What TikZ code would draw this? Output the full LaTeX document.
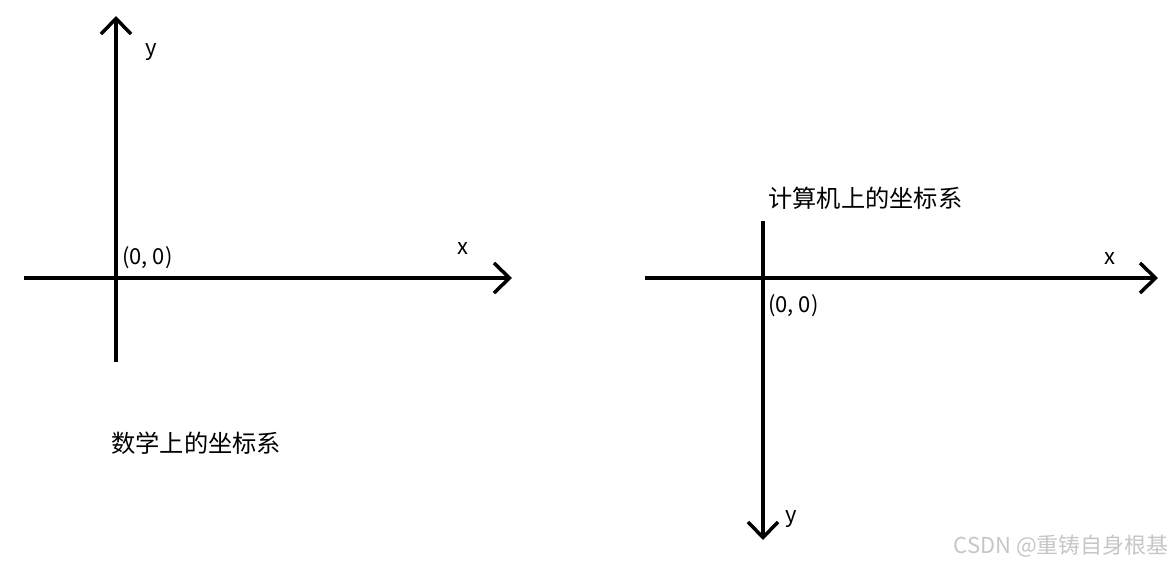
\documentclass[tikz,border=0pt]{standalone}
\usepackage{fontspec}
\setmainfont{Noto Sans CJK SC}
\usetikzlibrary{arrows.meta, positioning}

\begin{document}
\begin{tikzpicture}[x=0.02cm, y=-0.02cm,
    axis/.style={line width=2pt, -{Straight Barb[length=0.31cm, width=0.6cm, line width=2pt]}},
    lbl/.style={inner sep=0pt, font=\fontsize{12.5pt}{15pt}\selectfont},
    title/.style={inner sep=0pt, anchor=west, font=\fontsize{13.8pt}{16pt}\selectfont},
    wmark/.style={inner sep=0pt, text=gray!45, font=\fontsize{12.5pt}{15pt}\selectfont}]

  \useasboundingbox (0,0) rectangle (1174,565);

  % left: axes as in maths
  \coordinate (ml) at (24,278);
  \coordinate (mr) at (512,278);
  \coordinate (mb) at (116,362);
  \coordinate (mt) at (116,16);
  \draw[axis] (ml) -- (mr);
  \draw[axis] (mb) -- (mt);
  \node[lbl] (my) at (151,52) {y};
  \node[lbl] (mx) at (463,249) {x};
  \node[lbl, anchor=west] (mo) at (122,258) {(0, 0)};
  \node[title] (mtitle) at (111,443) {数学上的坐标系};

  % right: axes on a computer screen
  \coordinate (cl) at (645,278);
  \coordinate (cr) at (1158,278);
  \coordinate (ct) at (763,221);
  \coordinate (cb) at (763,540);
  \draw[axis] (cl) -- (cr);
  \draw[axis] (ct) -- (cb);
  \node[lbl] (cx) at (1110,259) {x};
  \node[lbl] (cy) at (791,519) {y};
  \node[lbl, anchor=west] (co) at (768,306) {(0, 0)};
  \node[title] (ctitle) at (768,198) {计算机上的坐标系};

  \node[wmark, anchor=east] (wm) at (1169,546) {CSDN @重铸自身根基};
\end{tikzpicture}
\end{document}
